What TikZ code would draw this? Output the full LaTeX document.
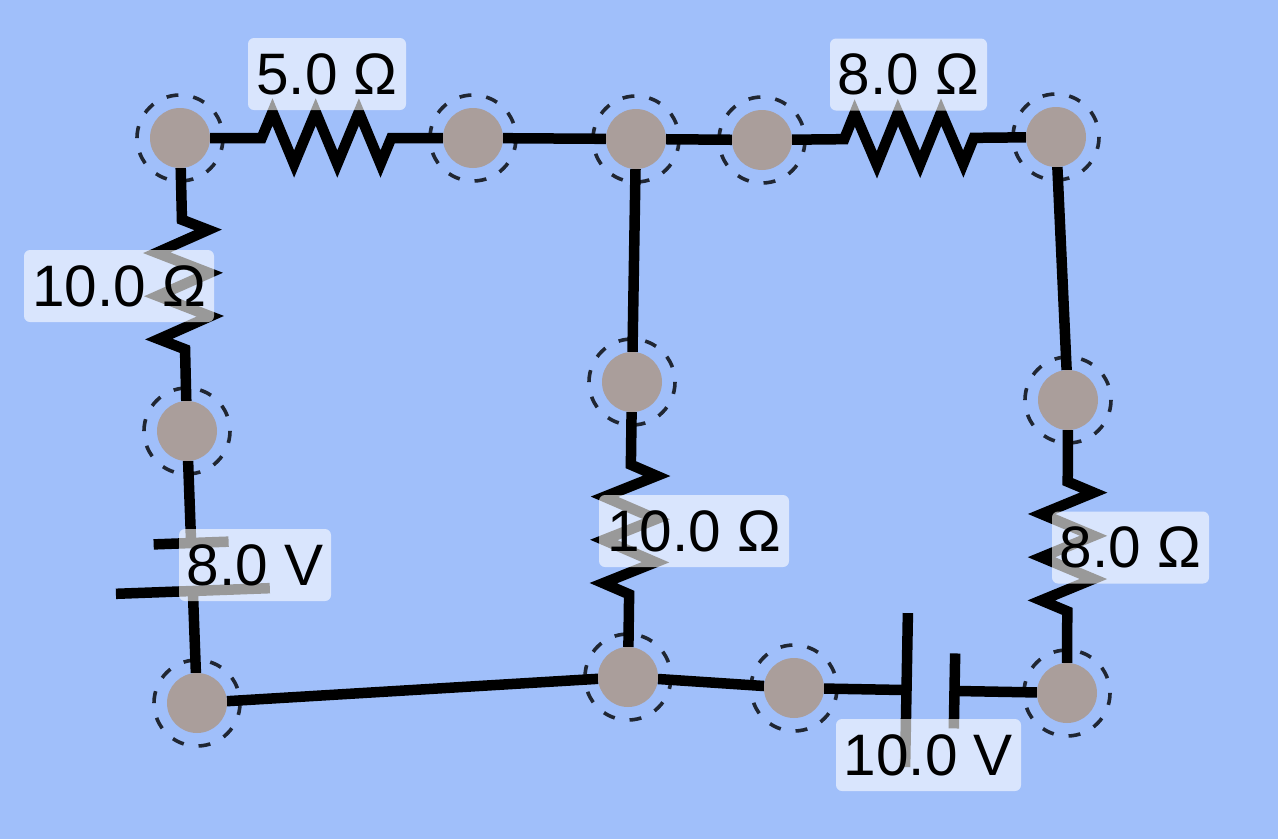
\documentclass[tikz,border=0pt]{standalone}
\usepackage{fontspec}
\setmainfont{Liberation Sans}
\usetikzlibrary{calc}
\pgfdeclarelayer{under}
\pgfsetlayers{under,main}
\definecolor{sky}{HTML}{A0BFFA}
\definecolor{terminal}{HTML}{AA9E9B}
\tikzset{
  wire/.style={draw=black,line width=10.5pt,line join=miter,miter limit=10},
  terminalDot/.style={circle,fill=terminal,minimum size=60pt,inner sep=0pt,outer sep=0pt},
  ring/.style={draw=black,draw opacity=.8,line width=3.6pt,dash pattern=on 12pt off 15pt},
  valueBox/.style={fill=white,fill opacity=.6,text opacity=1,rounded corners=6pt,
    inner xsep=0pt,inner ysep=0pt,minimum height=72pt,text height=56pt,text depth=16pt,
    align=center,font=\fontsize{58.5}{60}\selectfont},
}
\newcommand{\terminalAt}[2]{%
  \node[terminalDot] (#1) at (#2) {};
  \draw[ring] (#1.center) ++(43,0) arc[start angle=0,end angle=-360,radius=43pt];
}
\newcommand{\resistorLink}[2]{%
  \coordinate (m) at ($(#1)!.5!(#2)$);
  \draw[wire] (#1) -- ($(m)!-64.8pt!(#2)$)
    -- ($(m)!-54pt!(#2)!26pt!90:(#2)$)
    -- ($(m)!-32.4pt!(#2)!26pt!-90:(#2)$)
    -- ($(m)!-10.8pt!(#2)!26pt!90:(#2)$)
    -- ($(m)!10.8pt!(#2)!26pt!-90:(#2)$)
    -- ($(m)!32.4pt!(#2)!26pt!90:(#2)$)
    -- ($(m)!54pt!(#2)!26pt!-90:(#2)$)
    -- ($(m)!64.8pt!(#2)$) -- (#2);
}
\newcommand{\batteryLink}[2]{%
  \coordinate (m) at ($(#1)!.5!(#2)$);
  \coordinate (s) at ($(m)!-24pt!(#2)$);
  \coordinate (l) at ($(m)!24pt!(#2)$);
  \draw[wire] (#1) -- (s);
  \draw[wire] (l) -- (#2);
  \draw[wire] ($(s)!37.5pt!90:(#2)$) -- ($(s)!37.5pt!-90:(#2)$);
  \draw[wire] ($(l)!77pt!90:(#2)$) -- ($(l)!77pt!-90:(#2)$);
}
\begin{document}
\begin{tikzpicture}[x=1pt,y=-1pt]
\useasboundingbox (0,0) rectangle (1278,839);
\terminalAt{n1}{180,138}
\terminalAt{n2}{473,138}
\terminalAt{n3}{636,139}
\terminalAt{n4}{762,140}
\terminalAt{n5}{1056,137}
\terminalAt{n6}{1068,400}
\terminalAt{n7}{1067,693}
\terminalAt{n8}{794,688}
\terminalAt{n9}{628,677}
\terminalAt{n10}{632,382}
\terminalAt{n11}{197,703}
\terminalAt{n12}{187,431}
\begin{pgfonlayer}{under}
  \fill[sky] (0,0) rectangle (1278,839);
  \resistorLink{n1}{n2}
  \resistorLink{n4}{n5}
  \resistorLink{n1}{n12}
  \resistorLink{n10}{n9}
  \resistorLink{n6}{n7}
  \batteryLink{n12}{n11}
  \batteryLink{n7}{n8}
  \draw[wire] (n2) -- (n3);
  \draw[wire] (n3) -- (n4);
  \draw[wire] (n3) -- (n10);
  \draw[wire] (n5) -- (n6);
  \draw[wire] (n11) -- (n9);
  \draw[wire] (n9) -- (n8);
\end{pgfonlayer}
\node[valueBox,minimum width=158pt] (r1) at (327,74) {5.0 Ω};
\node[valueBox,minimum width=157pt] (r2) at (908.5,74.5) {8.0 Ω};
\node[valueBox,minimum width=190pt] (r3) at (119,286) {10.0 Ω};
\node[valueBox,minimum width=190pt] (r4) at (694,531) {10.0 Ω};
\node[valueBox,minimum width=157pt] (r5) at (1130.5,547.5) {8.0 Ω};
\node[valueBox,minimum width=152pt] (b1) at (255,565) {8.0 V};
\node[valueBox,minimum width=185pt] (b2) at (928.5,755) {10.0 V};
\end{tikzpicture}
\end{document}
